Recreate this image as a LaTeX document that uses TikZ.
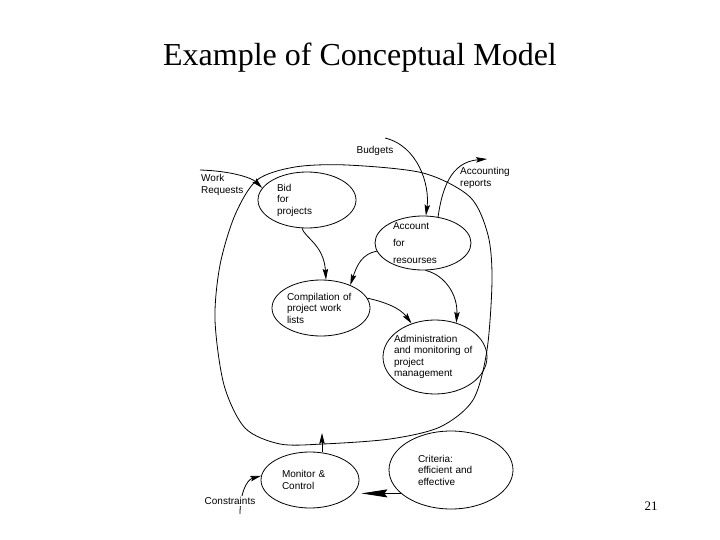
\documentclass[tikz,border=0pt]{standalone}
\usepackage{fontspec}
\setmainfont{Liberation Serif}
\newfontfamily\labelfont{Liberation Sans}
\usetikzlibrary{shapes.geometric,arrows.meta}

\begin{document}
\begin{tikzpicture}[x=1pt,y=-1pt,
        proc/.style={draw,ellipse,line width=0.8pt,inner sep=0pt,align=left,
            font=\labelfont\fontsize{10}{11.5}\selectfont},
        lbl/.style={inner sep=1pt,align=left,font=\labelfont\fontsize{10}{12.5}\selectfont},
        flow/.style={line width=0.8pt,-{Stealth[length=11pt,width=5.5pt,inset=2pt]}},
        wedge/.style={line width=0.8pt,-{Stealth[length=26pt,width=8pt,inset=3pt]}}]
                \useasboundingbox (0,0) rectangle (720,540);

                \node (title) at (360,58) {\fontsize{32}{38}\selectfont Example of Conceptual Model};
                \node (page) at (651,506) {\fontsize{13}{15}\selectfont 21};

                % the outer loop
                \draw[line width=0.8pt] plot[smooth cycle] coordinates {(347,165) (423,173) (470,197) (488,235)
                    (492,280) (487,350) (473,400) (440,427) (390,439) (323,444) (280,444) (245,428)
                    (224,385) (215,320) (220,265) (235,215) (257,180) (295,167)};
                \coordinate (loopbot) at (322,433);

                \node[proc,minimum width=98pt,minimum height=56pt,text width=60pt] (bid) at (307,200) {Bid\\for\\projects};
                \node[proc,minimum width=96pt,minimum height=54pt,text width=60pt,inner ysep=-3pt,
                    font=\labelfont\fontsize{10}{17}\selectfont] (acc) at (423,243) {Account\\for\\resourses};
                \node[proc,minimum width=98pt,minimum height=56pt,text width=68pt] (comp) at (321,308) {Compilation of\\project work\\lists};
                \node[proc,minimum width=104pt,minimum height=74pt,text width=82pt,inner xsep=-4.5pt] (adm) at (435,357) {Administration\\and monitoring of\\project\\management};
                \node[proc,minimum width=124pt,minimum height=78pt,text width=66pt] (crit) at (451,470) {Criteria:\\efficient and\\effective};
                \node[proc,minimum width=98pt,minimum height=56pt,text width=56pt] (mon) at (310,480) {Monitor \&\\Control};

                \coordinate (wrin) at (200,170);
                \coordinate (bgin) at (385,138);
                \coordinate (arout) at (487,159);
                \coordinate (csin) at (240,514);

                \draw[flow] (wrin) .. controls (232,171) and (252,178) .. (bid.165);
                \draw[flow] (bgin) .. controls (418,146) and (430,185) .. (acc.84);
                \draw[flow] (acc.60) .. controls (442,190) and (450,162) .. (arout);
                \draw[flow] (bid.-100) .. controls (305,238) and (324,245) .. (comp.80);
                \draw[flow] (acc.190) .. controls (362,254) and (357,265) .. (comp.38);
                \draw[flow] (acc.-85) .. controls (445,275) and (458,295) .. (adm.58);
                \draw[flow] (comp.12) .. controls (385,302) and (400,308) .. (adm.125);
                \draw[flow] (mon.north -| loopbot) -- (loopbot);
                \draw[wedge,shorten >=2pt] (crit.205) -- (mon.east |- crit.205);
                \draw[flow] (csin) .. controls (240,495) and (246,480) .. (mon.175);

                \node[lbl] (budgets) at (375,151) {Budgets};
                \node[lbl,anchor=west] (work) at (200,185) {Work\\Requests};
                \node[lbl,anchor=west] (accrep) at (459,178) {Accounting\\reports};
                \node[lbl,fill=white] (cons) at (230,501) {Constraints};
            \end{tikzpicture}
\end{document}
